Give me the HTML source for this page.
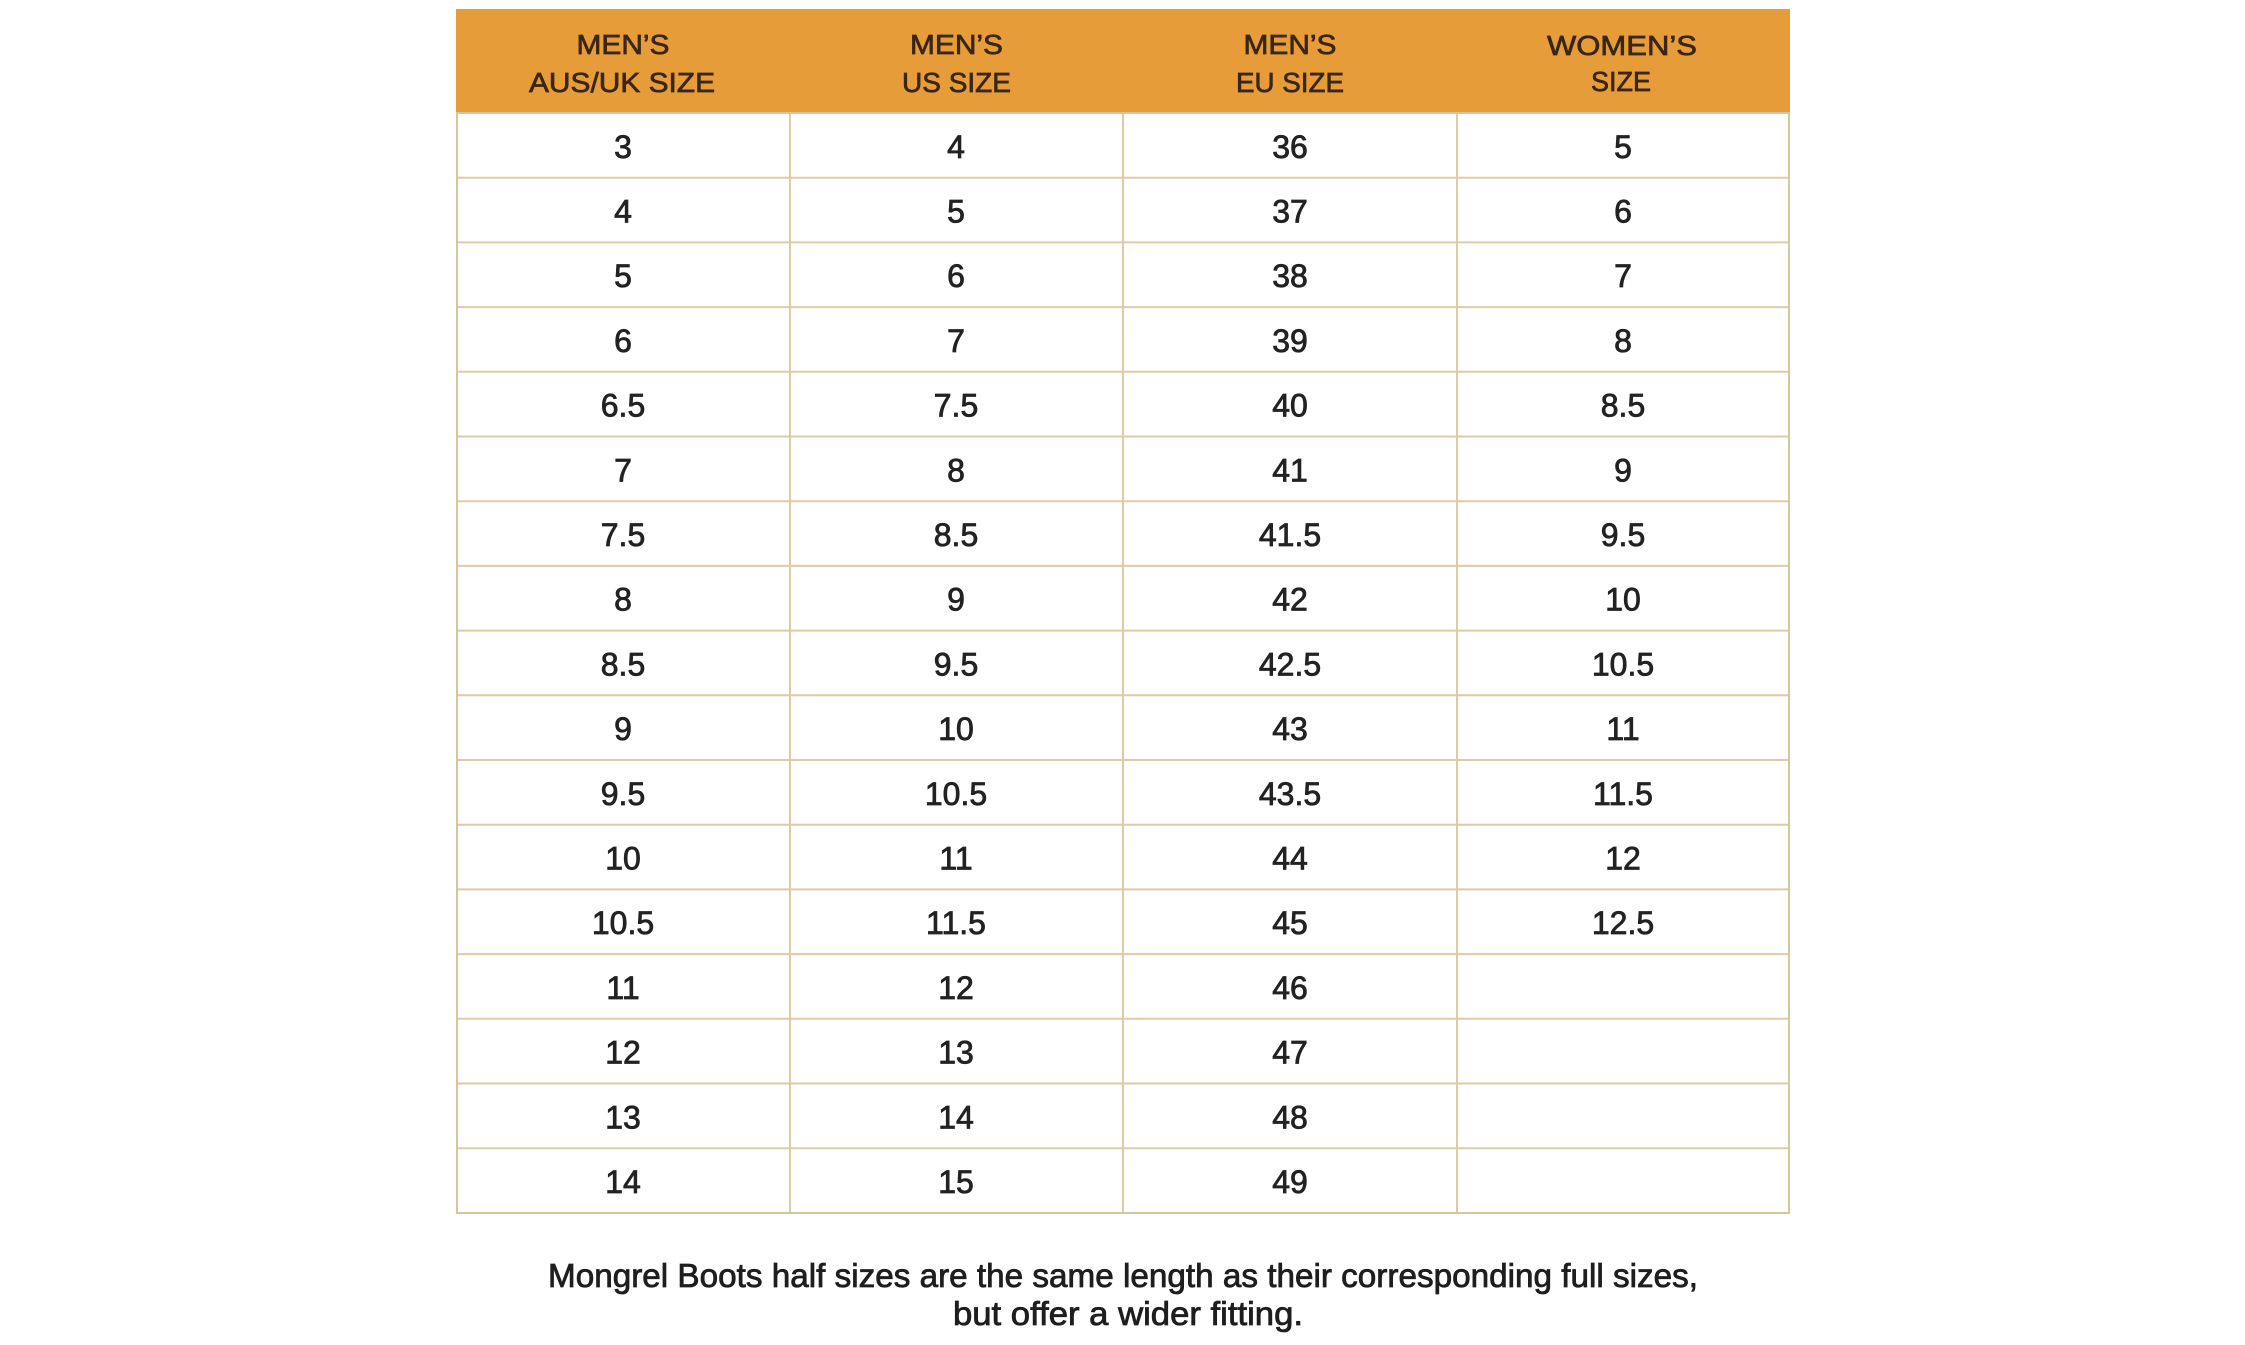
<!DOCTYPE html>
<html><head><meta charset="utf-8"><style>
html,body{margin:0;padding:0;background:#fff;}
svg{display:block;}
text{font-family:"Liberation Sans",sans-serif;}
</style></head><body>
<svg width="2245" height="1345" viewBox="0 0 2245 1345" xmlns="http://www.w3.org/2000/svg">
<rect x="0" y="0" width="2245" height="1345" fill="#fff"/>
<rect x="456" y="9" width="1334" height="104" fill="#e69c38"/>
<g stroke="#dfcca4" stroke-width="2" fill="none">
<line x1="456" y1="177.7" x2="1790" y2="177.7"/>
<line x1="456" y1="242.4" x2="1790" y2="242.4"/>
<line x1="456" y1="307.1" x2="1790" y2="307.1"/>
<line x1="456" y1="371.8" x2="1790" y2="371.8"/>
<line x1="456" y1="436.5" x2="1790" y2="436.5"/>
<line x1="456" y1="501.2" x2="1790" y2="501.2"/>
<line x1="456" y1="565.9" x2="1790" y2="565.9"/>
<line x1="456" y1="630.6" x2="1790" y2="630.6"/>
<line x1="456" y1="695.3" x2="1790" y2="695.3"/>
<line x1="456" y1="760" x2="1790" y2="760"/>
<line x1="456" y1="824.7" x2="1790" y2="824.7"/>
<line x1="456" y1="889.4" x2="1790" y2="889.4"/>
<line x1="456" y1="954.1" x2="1790" y2="954.1"/>
<line x1="456" y1="1018.8" x2="1790" y2="1018.8"/>
<line x1="456" y1="1083.5" x2="1790" y2="1083.5"/>
<line x1="456" y1="1148.2" x2="1790" y2="1148.2"/>
<line x1="790" y1="113" x2="790" y2="1213"/>
<line x1="1123" y1="113" x2="1123" y2="1213"/>
<line x1="1457" y1="113" x2="1457" y2="1213"/>
<rect x="457" y="113" width="1332" height="1100" stroke="#d8c59c"/>
</g>
<g fill="#3a2614" stroke="#3a2614" stroke-width="0.7" font-size="28" text-anchor="middle">
<text x="623" y="54" textLength="93" lengthAdjust="spacingAndGlyphs">MEN’S</text>
<text x="622" y="92" textLength="186" lengthAdjust="spacingAndGlyphs">AUS/UK SIZE</text>
<text x="956.5" y="54" textLength="93" lengthAdjust="spacingAndGlyphs">MEN’S</text>
<text x="956.5" y="92" textLength="109" lengthAdjust="spacingAndGlyphs">US SIZE</text>
<text x="1290" y="54" textLength="93" lengthAdjust="spacingAndGlyphs">MEN’S</text>
<text x="1290" y="92" textLength="108" lengthAdjust="spacingAndGlyphs">EU SIZE</text>
<text x="1622" y="55" textLength="150" lengthAdjust="spacingAndGlyphs">WOMEN’S</text>
<text x="1621" y="91" textLength="60" lengthAdjust="spacingAndGlyphs">SIZE</text>
</g>
<g fill="#222" stroke="#222" stroke-width="0.8" font-size="32" text-anchor="middle">
<text x="623" y="158">3</text><text x="956" y="158">4</text><text x="1290" y="158">36</text><text x="1623" y="158">5</text>
<text x="623" y="222.5">4</text><text x="956" y="222.5">5</text><text x="1290" y="222.5">37</text><text x="1623" y="222.5">6</text>
<text x="623" y="287.2">5</text><text x="956" y="287.2">6</text><text x="1290" y="287.2">38</text><text x="1623" y="287.2">7</text>
<text x="623" y="351.9">6</text><text x="956" y="351.9">7</text><text x="1290" y="351.9">39</text><text x="1623" y="351.9">8</text>
<text x="623" y="416.6">6.5</text><text x="956" y="416.6">7.5</text><text x="1290" y="416.6">40</text><text x="1623" y="416.6">8.5</text>
<text x="623" y="481.3">7</text><text x="956" y="481.3">8</text><text x="1290" y="481.3">41</text><text x="1623" y="481.3">9</text>
<text x="623" y="546">7.5</text><text x="956" y="546">8.5</text><text x="1290" y="546">41.5</text><text x="1623" y="546">9.5</text>
<text x="623" y="610.7">8</text><text x="956" y="610.7">9</text><text x="1290" y="610.7">42</text><text x="1623" y="610.7">10</text>
<text x="623" y="675.4">8.5</text><text x="956" y="675.4">9.5</text><text x="1290" y="675.4">42.5</text><text x="1623" y="675.4">10.5</text>
<text x="623" y="740.1">9</text><text x="956" y="740.1">10</text><text x="1290" y="740.1">43</text><text x="1623" y="740.1">11</text>
<text x="623" y="804.8">9.5</text><text x="956" y="804.8">10.5</text><text x="1290" y="804.8">43.5</text><text x="1623" y="804.8">11.5</text>
<text x="623" y="869.5">10</text><text x="956" y="869.5">11</text><text x="1290" y="869.5">44</text><text x="1623" y="869.5">12</text>
<text x="623" y="934.2">10.5</text><text x="956" y="934.2">11.5</text><text x="1290" y="934.2">45</text><text x="1623" y="934.2">12.5</text>
<text x="623" y="998.9">11</text><text x="956" y="998.9">12</text><text x="1290" y="998.9">46</text>
<text x="623" y="1063.6">12</text><text x="956" y="1063.6">13</text><text x="1290" y="1063.6">47</text>
<text x="623" y="1128.3">13</text><text x="956" y="1128.3">14</text><text x="1290" y="1128.3">48</text>
<text x="623" y="1193">14</text><text x="956" y="1193">15</text><text x="1290" y="1193">49</text>
</g>
<g fill="#1e1e1e" stroke="#1e1e1e" stroke-width="0.8" font-size="33">
<text x="548" y="1287" textLength="1150" lengthAdjust="spacingAndGlyphs">Mongrel Boots half sizes are the same length as their corresponding full sizes,</text>
<text x="953" y="1325" textLength="350" lengthAdjust="spacingAndGlyphs">but offer a wider fitting.</text>
</g>
</svg>
</body></html>
